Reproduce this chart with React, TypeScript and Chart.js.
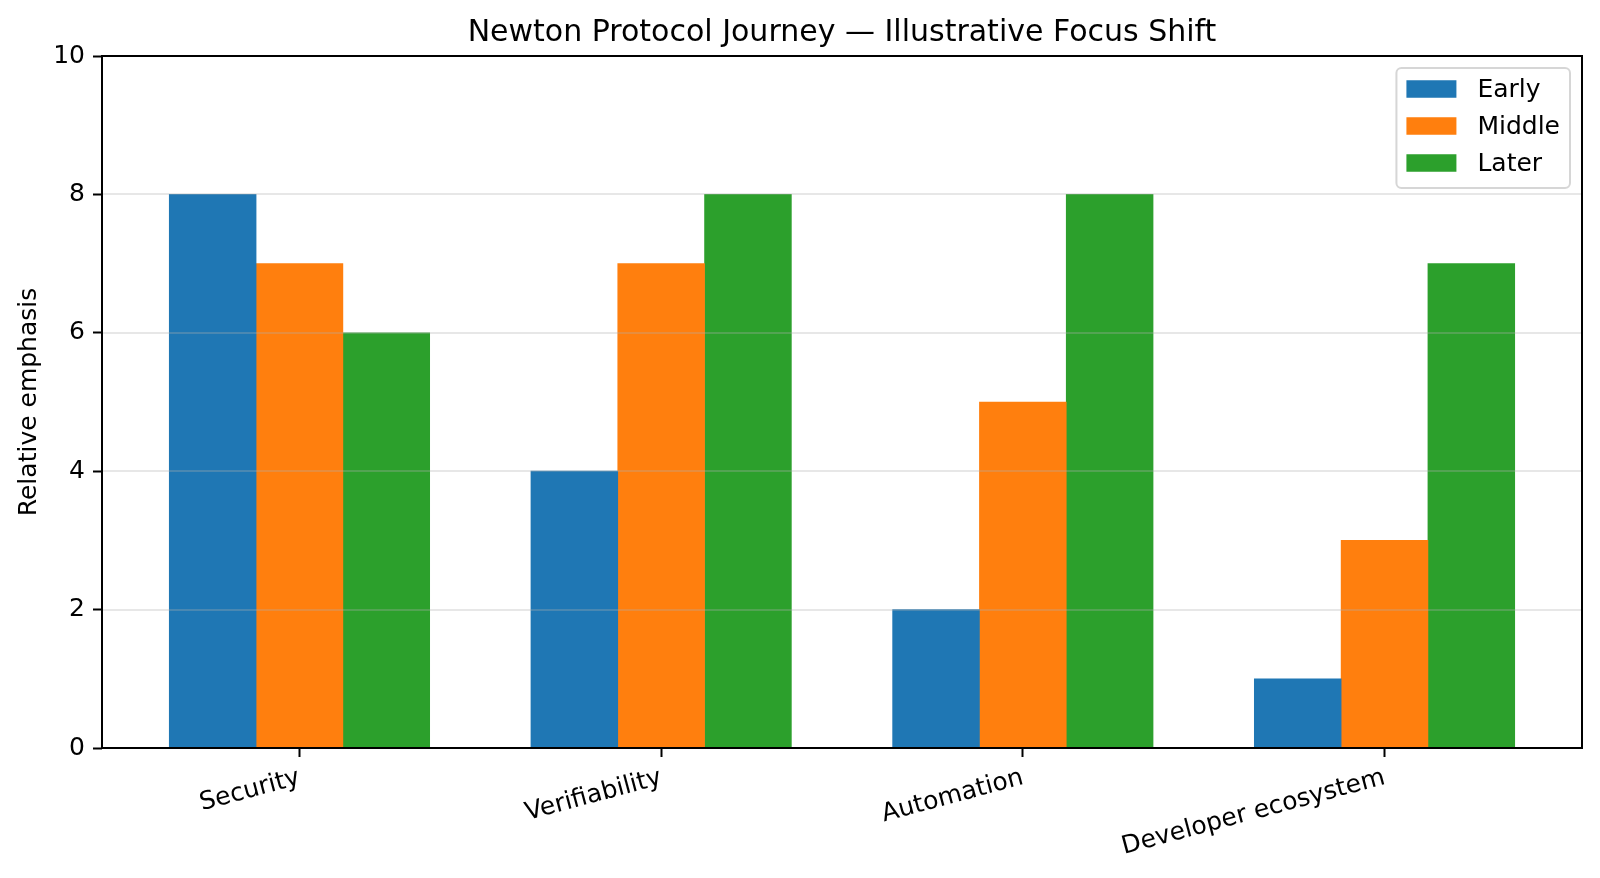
import React, { useEffect, useRef } from "react";
import { Chart, registerables } from "chart.js";

Chart.register(...registerables);

// ---- data ----
const categories = ["Security", "Verifiability", "Automation", "Developer ecosystem"];
const seriesNames = ["Early", "Middle", "Later"];
const earlyValues = [8, 4, 2, 1];
const middleValues = [7, 7, 5, 3];
const laterValues = [6, 8, 8, 7];
const seriesColors = ["#1f77b4", "#ff7f0e", "#2ca02c"];
const yTickValues = [0, 2, 4, 6, 8, 10];
const chartTitle = "Newton Protocol Journey \u2014 Illustrative Focus Shift";
const yAxisLabel = "Relative emphasis";

// ---- layout / style ----
const FONT = '"DejaVu Sans", sans-serif';
const BAR_W = 0.24;
const X_MARGIN = 0.05;

const seriesValues = [earlyValues, middleValues, laterValues];

const dataMinX = -1.5 * BAR_W;
const dataMaxX = categories.length - 1 + 1.5 * BAR_W;
const span = dataMaxX - dataMinX;
const xMin = dataMinX - span * X_MARGIN;
const xMax = dataMaxX + span * X_MARGIN;

const overlayPlugin = {
  id: "mplOverlay",
  afterDatasetsDraw(chart: any) {
    const { ctx, chartArea } = chart;
    const y = chart.scales.y;
    ctx.save();
    // grid lines above bars (matplotlib default zorder)
    ctx.strokeStyle = "rgba(176,176,176,0.3)";
    ctx.lineWidth = 2;
    y.ticks.forEach((t: any) => {
      const py = Math.round(y.getPixelForValue(t.value)) + 0.0;
      ctx.beginPath();
      ctx.moveTo(chartArea.left, py);
      ctx.lineTo(chartArea.right, py);
      ctx.stroke();
    });
    // frame
    ctx.strokeStyle = "#000";
    ctx.lineWidth = 2;
    ctx.strokeRect(chartArea.left, chartArea.top, chartArea.right - chartArea.left, chartArea.bottom - chartArea.top);
    ctx.restore();
  },
  afterDraw(chart: any) {
    const { ctx, chartArea } = chart;
    ctx.save();
    // title
    ctx.font = `30px ${FONT}`;
    ctx.fillStyle = "#000";
    ctx.textAlign = "center";
    ctx.textBaseline = "alphabetic";
    ctx.fillText(chartTitle, (chartArea.left + chartArea.right) / 2, chartArea.top - 15);

    // legend
    const fs = 25;
    ctx.font = `${fs}px ${FONT}`;
    const ds = chart.data.datasets;
    let maxW = 0;
    ds.forEach((d: any) => {
      maxW = Math.max(maxW, ctx.measureText(d.label).width);
    });
    const pad = 10;
    const handleW = 50;
    const handleH = 17.5;
    const gap = 21;
    const rowH = 37;
    const firstRow = 21;
    const boxW = pad + handleW + gap + maxW + pad;
    const boxH = firstRow + (ds.length - 1) * rowH + 25;
    const bx = chartArea.right - 12 - boxW;
    const by = chartArea.top + 12;
    ctx.beginPath();
    const r = 5;
    ctx.moveTo(bx + r, by);
    ctx.lineTo(bx + boxW - r, by);
    ctx.arcTo(bx + boxW, by, bx + boxW, by + r, r);
    ctx.lineTo(bx + boxW, by + boxH - r);
    ctx.arcTo(bx + boxW, by + boxH, bx + boxW - r, by + boxH, r);
    ctx.lineTo(bx + r, by + boxH);
    ctx.arcTo(bx, by + boxH, bx, by + boxH - r, r);
    ctx.lineTo(bx, by + r);
    ctx.arcTo(bx, by, bx + r, by, r);
    ctx.closePath();
    ctx.fillStyle = "rgba(255,255,255,0.8)";
    ctx.fill();
    ctx.strokeStyle = "rgba(204,204,204,0.8)";
    ctx.lineWidth = 2;
    ctx.stroke();
    ds.forEach((d: any, i: number) => {
      const cy = by + firstRow + i * rowH;
      ctx.fillStyle = d.backgroundColor;
      ctx.fillRect(bx + pad, cy - handleH / 2, handleW, handleH);
      ctx.fillStyle = "#000";
      ctx.textAlign = "left";
      ctx.textBaseline = "middle";
      ctx.fillText(d.label, bx + pad + handleW + gap, cy + 1);
    });
    ctx.restore();
  },
};

export default function App() {
  const canvasRef = useRef<HTMLCanvasElement | null>(null);

  useEffect(() => {
    const canvas = canvasRef.current;
    if (!canvas) return;
    const datasets = seriesNames.map((name, s) => ({
      label: name,
      data: seriesValues[s].map((v, i) => ({ x: i + (s - 1) * BAR_W, y: v })),
      backgroundColor: seriesColors[s],
      borderWidth: 0,
      grouped: false,
      barPercentage: 1,
      categoryPercentage: 1,
    }));

    const chart = new Chart(canvas, {
      type: "bar",
      data: { datasets },
      options: {
        animation: false,
        responsive: false,
        devicePixelRatio: 1,
        layout: { padding: { top: 56, left: 0, right: 18, bottom: 0 } },
        plugins: {
          legend: { display: false },
          title: { display: false },
          tooltip: { enabled: false },
        },
        scales: {
          x: {
            type: "linear",
            min: xMin,
            max: xMax,
            offset: false,
            afterBuildTicks: (scale: any) => {
              scale.ticks = categories.map((_, i) => ({ value: i }));
            },
            afterFit: (scale: any) => {
              scale.height = 130;
            },
            grid: {
              offset: false,
              drawOnChartArea: false,
              drawTicks: true,
              tickLength: 9,
              tickColor: "#000",
              tickWidth: 2,
            },
            border: { display: false },
            ticks: {
              autoSkip: false,
              minRotation: 15,
              maxRotation: 15,
              padding: 6,
              color: "#000",
              font: { family: FONT, size: 25 },
              callback: (value: any) => categories[Math.round(Number(value))] ?? "",
            },
          },
          y: {
            type: "linear",
            min: yTickValues[0],
            max: yTickValues[yTickValues.length - 1],
            afterBuildTicks: (scale: any) => {
              scale.ticks = yTickValues.map((v) => ({ value: v }));
            },
            afterFit: (scale: any) => {
              scale.width = 102;
            },
            grid: {
              drawOnChartArea: false,
              drawTicks: true,
              tickLength: 9,
              tickColor: "#000",
              tickWidth: 2,
            },
            border: { display: false },
            ticks: {
              padding: 8,
              color: "#000",
              font: { family: FONT, size: 25 },
            },
            title: {
              display: true,
              text: yAxisLabel,
              color: "#000",
              font: { family: FONT, size: 25 },
              padding: { top: 14, bottom: 0 },
            },
          },
        },
      },
      plugins: [overlayPlugin],
    } as any);

    return () => {
      chart.destroy();
    };
  }, []);

  return (
    <div style={{ position: "absolute", left: 0, top: 0, width: 1600, height: 878, background: "#fff" }}>
      <canvas ref={canvasRef} width={1600} height={878} style={{ display: "block" }} />
    </div>
  );
}
